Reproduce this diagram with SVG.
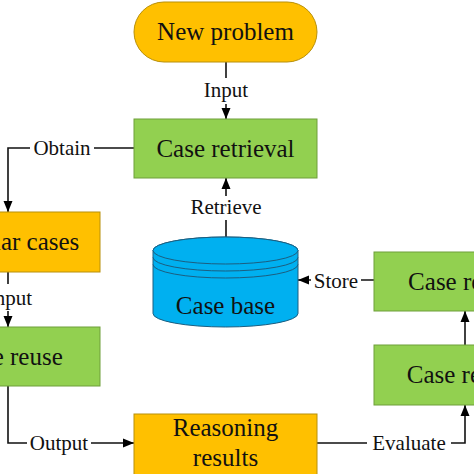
<svg xmlns="http://www.w3.org/2000/svg" width="474" height="474" viewBox="0 0 474 474" font-family="'Liberation Serif', 'Times New Roman', serif">
<defs>
<marker id="ah" markerUnits="userSpaceOnUse" markerWidth="11" markerHeight="10" refX="11" refY="5" orient="auto">
<path d="M0,0.5 L11,5 L0,9.5 z" fill="#000"/>
</marker>
<style>
.org{fill:#FFC000;stroke:#B8900A;stroke-width:1}
.grn{fill:#92D050;stroke:#6F9F3A;stroke-width:1}
.cyl{fill:#00B0F0;stroke:#1C5E80;stroke-width:1}
.arc{fill:none;stroke:#1C5E80;stroke-width:1}
text{font-family:'Liberation Serif','Times New Roman',serif}
.nt{font-size:25px;fill:#111;text-anchor:middle}
.lb{font-size:21px;fill:#111;text-anchor:middle}
.ln{fill:none;stroke:#111;stroke-width:1.6}
.bg{fill:#fff}
</style>
</defs>
<rect width="474" height="474" fill="#fff"/>
<g id="connectors">
<path class="ln" d="M226,62 V119" marker-end="url(#ah)"/>
<path class="ln" d="M134,148 H8 V212" marker-end="url(#ah)"/>
<path class="ln" d="M8,272 V327" marker-end="url(#ah)"/>
<path class="ln" d="M8,386 V443 H134" marker-end="url(#ah)"/>
<path class="ln" d="M317,443 H465 V405" marker-end="url(#ah)"/>
<path class="ln" d="M465,345 V311" marker-end="url(#ah)"/>
<path class="ln" d="M374,280 H298" marker-end="url(#ah)"/>
<path class="ln" d="M226,237 V178" marker-end="url(#ah)"/>
<rect class="bg" x="202" y="78" width="48" height="26"/>
<text class="lb" x="226" y="97">Input</text>
<rect class="bg" x="30" y="138" width="64" height="20"/>
<text class="lb" x="62" y="155">Obtain</text>
<rect class="bg" x="-15" y="284" width="50" height="27"/>
<text class="lb" x="10" y="305">Input</text>
<rect class="bg" x="27" y="433" width="64" height="20"/>
<text class="lb" x="59" y="450">Output</text>
<rect class="bg" x="367" y="433" width="84" height="20"/>
<text class="lb" x="409" y="450">Evaluate</text>
<rect class="bg" x="311" y="270" width="50" height="20"/>
<text class="lb" x="336" y="288">Store</text>
<rect class="bg" x="190" y="196" width="72" height="24"/>
<text class="lb" x="226" y="214">Retrieve</text>
</g>
<g id="new-problem">
<rect class="org" x="134" y="2" width="183" height="60" rx="30"/>
<text class="nt" x="225.5" y="40">New problem</text>
</g>
<g id="case-retrieval">
<rect class="grn" x="134" y="119" width="183" height="59"/>
<text class="nt" x="225.5" y="157">Case retrieval</text>
</g>
<g id="similar-cases">
<rect class="org" x="-84" y="212" width="184" height="60"/>
<text class="nt" x="13" y="250">Similar cases</text>
</g>
<g id="case-reuse">
<rect class="grn" x="-84" y="327" width="184" height="59"/>
<text class="nt" x="9" y="365">Case reuse</text>
</g>
<g id="reasoning-results">
<rect class="org" x="134" y="414" width="183" height="64"/>
<text class="nt" x="225.5" y="436">Reasoning</text>
<text class="nt" x="225.5" y="466">results</text>
</g>
<g id="case-base">
<path class="cyl" d="M153,250.5 V313.5 A72.5,13.5 0 0 0 298,313.5 V250.5 A72.5,13.5 0 0 0 153,250.5 z"/>
<ellipse class="cyl" cx="225.5" cy="250.5" rx="72.5" ry="13.5"/>
<path class="arc" d="M153,257.5 A72.5,13.5 0 0 0 298,257.5"/>
<path class="arc" d="M153,264.5 A72.5,13.5 0 0 0 298,264.5"/>
<text class="nt" x="225.5" y="314">Case base</text>
</g>
<g id="case-retain">
<rect class="grn" x="374" y="252" width="183" height="59"/>
<text class="nt" x="464" y="290">Case retain</text>
</g>
<g id="case-revise">
<rect class="grn" x="374" y="345" width="183" height="60"/>
<text class="nt" x="464" y="383">Case revise</text>
</g>
</svg>
